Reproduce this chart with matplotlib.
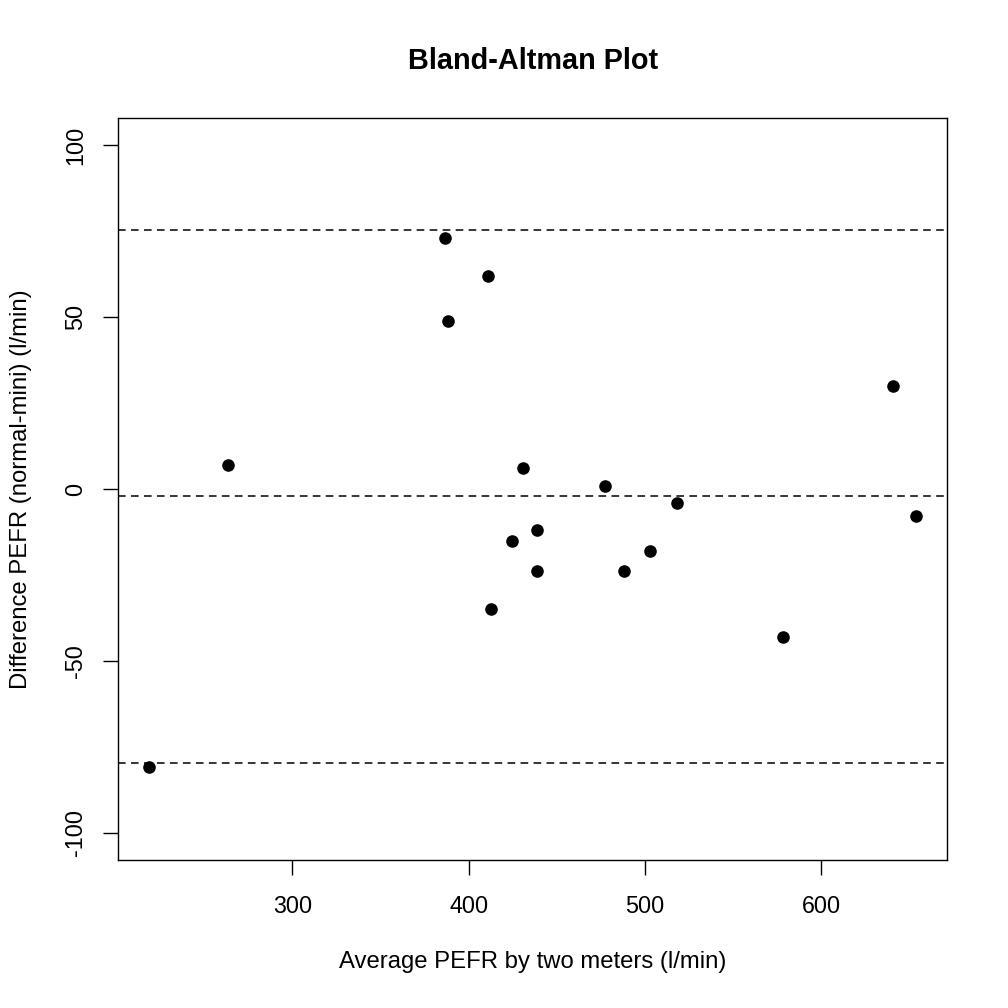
import numpy as np
import matplotlib.pyplot as plt

plt.rcParams['font.family'] = ['Liberation Sans', 'DejaVu Sans']
plt.rcParams['axes.unicode_minus'] = False

# PEFR measurements (l/min): large Wright meter vs mini Wright meter
wright = [494, 395, 516, 434, 476, 557, 413, 442, 650, 433, 417, 656, 267, 478, 178, 423, 427]
mini = [512, 430, 520, 428, 500, 600, 364, 380, 658, 445, 432, 626, 260, 477, 259, 350, 451]
x_ticks = [300, 400, 500, 600]
y_ticks = [-100, -50, 0, 50, 100]

wright = np.array(wright)
mini = np.array(mini)
avg = (wright + mini) / 2
diff = wright - mini
md = diff.mean()
sd = diff.std(ddof=1)

fig = plt.figure(figsize=(10.08, 10.08), dpi=100)
ax = fig.add_axes([0.117, 0.1468, 0.8225, 0.7362])

ax.scatter(avg, diff, s=82, color='black', zorder=3, linewidths=0)
# mean difference and limits (mean +/- 2 SD)
for y in (md - 2 * sd, md, md + 2 * sd):
    ax.axhline(y, color='black', lw=1.1, ls=(0, (5, 3.5)))

rng = avg.max() - avg.min()
ax.set_xlim(avg.min() - 0.04 * rng, avg.max() + 0.04 * rng)
ax.set_ylim(-108, 108)
ax.set_xticks(x_ticks)
ax.set_yticks(y_ticks)
ax.tick_params(length=10.5, width=1, labelsize=16.8)
ax.tick_params(axis='x', pad=14.5)
ax.tick_params(axis='y', pad=11.5)
for lab in ax.get_yticklabels():
    lab.set_rotation(90)
    lab.set_va('center')
for s in ax.spines.values():
    s.set_linewidth(1)

ax.set_xlabel('Average PEFR by two meters (l/min)', fontsize=17.2)
ax.xaxis.set_label_coords(0.5, -0.123)
ax.set_ylabel('Difference PEFR (normal-mini) (l/min)', fontsize=17.2)
ax.yaxis.set_label_coords(-0.104, 0.5)
fig.text(0.5288, 1 - 69 / 1008, 'Bland-Altman Plot', fontsize=20.8, fontweight='bold',
         ha='center', va='baseline')

fig.savefig('out.png', dpi=100)
